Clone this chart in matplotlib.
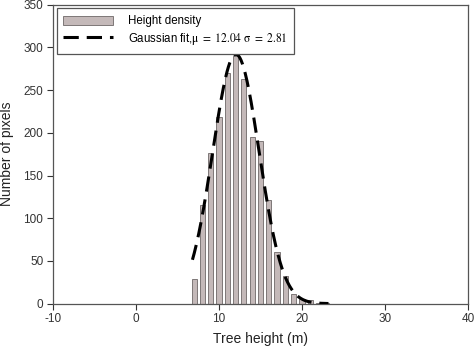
import numpy as np
import matplotlib
matplotlib.use('Agg')
import matplotlib.pyplot as plt

# histogram of tree heights (bin centre in m, pixel count)
heights = [7, 8, 9, 10, 11, 12, 13, 14, 15, 16, 17, 18, 19, 20, 21, 22, 23]
counts = [29, 115, 176, 218, 270, 290, 263, 195, 190, 121, 61, 32, 11, 5, 4, 1, 1]

# gaussian fit parameters given in the legend
mu = 12.04
sigma = 2.81
amplitude = 292
fit_range = [6.8, 23.2]

plt.rcParams['font.family'] = ['Liberation Sans', 'DejaVu Sans']
plt.rcParams['mathtext.fontset'] = 'stix'
plt.rcParams['axes.unicode_minus'] = False

fig = plt.figure(figsize=(4.74, 3.52), dpi=100)
ax = fig.add_axes([0.112, 0.1375, 0.875, 0.849])

bars = ax.bar(heights, counts, width=0.62, color='#c4b9b9', edgecolor='#6e6868',
              linewidth=0.6, label='Height density', zorder=2)

x_fit = np.linspace(fit_range[0], fit_range[1], 300)
y_fit = amplitude * np.exp(-(x_fit - mu) ** 2 / (2 * sigma ** 2))
line, = ax.plot(x_fit, y_fit, color='black', linewidth=2.2, dashes=(5, 2.6),
                label=r'Gaussian fit,$\mathrm{\mu\ =\ 12.04\ \sigma\ =\ 2.81}$', zorder=3)

ax.set_xlim(-10, 40)
ax.set_ylim(0, 350)
ax.set_xticks([-10, 0, 10, 20, 30, 40])
ax.set_yticks(range(0, 351, 50))
ax.tick_params(direction='out', length=4, width=0.8, labelsize=8.5,
               colors='#333333', pad=3)
for sp in ax.spines.values():
    sp.set_color('#555555')
    sp.set_linewidth(0.9)

ax.set_xlabel('Tree height (m)', fontsize=10, labelpad=5, color='#222222')
ax.set_ylabel('Number of pixels', fontsize=10, labelpad=7, color='#222222')

leg = ax.legend([bars, line], [bars.get_label(), line.get_label()],
                loc='upper left', bbox_to_anchor=(0.0, 1.0), fontsize=8.3,
                handlelength=4.3, handleheight=0.8, handletextpad=1.3,
                borderpad=0.6, labelspacing=0.3, fancybox=False, framealpha=1,
                edgecolor='#555555', borderaxespad=0.3)
leg.get_frame().set_linewidth(0.9)

fig.savefig('out.png', dpi=100)
